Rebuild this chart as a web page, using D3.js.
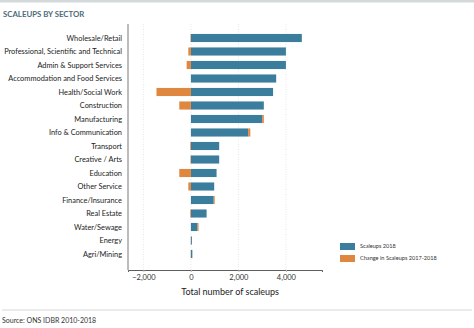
<!DOCTYPE html>
<html>
<head>
<meta charset="utf-8">
<script src="https://cdn.jsdelivr.net/npm/d3@7"></script>
<style>
  body { margin: 0; background: #fff; }
  svg { display: block; font-family: Lato, "Open Sans", sans-serif; }
</style>
</head>
<body>
<svg width="474" height="328"></svg>
<script>
var sectors = ['Wholesale/Retail', 'Professional, Scientific and Technical', 'Admin & Support Services',
  'Accommodation and Food Services', 'Health/Social Work', 'Construction', 'Manufacturing',
  'Info & Communication', 'Transport', 'Creative / Arts', 'Education', 'Other Service',
  'Finance/Insurance', 'Real Estate', 'Water/Sewage', 'Energy', 'Agri/Mining'];
var scaleups2018 = [4670, 4000, 4000, 3590, 3460, 3070, 3000, 2410, 1190, 1190, 1080, 980, 960, 660, 280, 40, 60];
var change = [-20, -110, -180, 0, -1450, -490, 70, 90, -30, -20, -490, -110, 40, -30, 40, -10, -10];
var xTicks = [-2000, 0, 2000, 4000];
var legendLabels = ['Scaleups 2018', 'Change in Scaleups 2017-2018'];

var blue = '#3b7d9c', orange = '#e0873f';
var svg = d3.select('svg');

// frame: top band, title, bottom rule, source
svg.append('rect').attr('x', 0).attr('y', 0).attr('width', 474).attr('height', 2.5).attr('fill', '#d3d9db');
svg.append('text').attr('x', 3).attr('y', 17)
   .attr('font-size', 7.8).attr('font-weight', 700).attr('fill', '#4b6b7a')
   .text('SCALEUPS BY SECTOR');
svg.append('line').attr('x1', 2).attr('x2', 472).attr('y1', 310).attr('y2', 310)
   .attr('stroke', '#d6d6d6').attr('stroke-width', 1);
svg.append('text').attr('x', 2).attr('y', 323)
   .attr('font-size', 7).attr('fill', '#333')
   .text('Source: ONS IDBR 2010-2018');

var x = d3.scaleLinear().domain([-2650, 5520]).range([128, 322]);
var y = d3.scaleBand().domain(sectors).range([31.25, 260.75]).paddingInner(0.4).paddingOuter(0.2);

// dotted gridlines
svg.append('g').selectAll('line').data(xTicks).enter().append('line')
   .attr('x1', d => x(d)).attr('x2', d => x(d))
   .attr('y1', 24).attr('y2', 270)
   .attr('stroke', '#ddd').attr('stroke-width', 0.7).attr('stroke-dasharray', '1,1.5');

var rows = sectors.map((s, i) => ({sector: s, total: scaleups2018[i], change: change[i]}));

svg.append('g').selectAll('rect').data(rows).enter().append('rect')
   .attr('x', x(0))
   .attr('y', d => y(d.sector))
   .attr('width', d => x(d.total) - x(0))
   .attr('height', y.bandwidth())
   .attr('fill', blue);

svg.append('g').selectAll('rect').data(rows.filter(d => d.change !== 0)).enter().append('rect')
   .attr('x', d => d.change < 0 ? x(d.change) : x(d.total))
   .attr('y', d => y(d.sector))
   .attr('width', d => Math.abs(x(d.change) - x(0)))
   .attr('height', y.bandwidth())
   .attr('fill', orange);

// y axis line and labels
svg.append('line').attr('x1', 128).attr('x2', 128).attr('y1', 24).attr('y2', 270)
   .attr('stroke', '#555').attr('stroke-width', 0.8);
svg.append('g').selectAll('text').data(sectors).enter().append('text')
   .attr('x', 122)
   .attr('y', d => y(d) + y.bandwidth() / 2)
   .attr('dy', '0.35em')
   .attr('text-anchor', 'end')
   .attr('font-size', 7.4).attr('fill', '#222')
   .text(d => d);

// x axis
var xAxis = svg.append('g').attr('transform', 'translate(0,270)')
   .call(d3.axisBottom(x).tickValues(xTicks).tickSize(2).tickFormat(d3.format(',')));
xAxis.select('.domain').attr('stroke', '#333').attr('stroke-width', 0.8);
xAxis.selectAll('.tick line').attr('stroke', '#bbb');
xAxis.selectAll('text').attr('font-size', 7.5).attr('fill', '#333')
   .attr('font-family', 'Lato, "Open Sans", sans-serif');

svg.append('text').attr('x', x(1650)).attr('y', 295)
   .attr('text-anchor', 'middle').attr('font-size', 9).attr('fill', '#222')
   .text('Total number of scaleups');

// legend
var legend = svg.append('g').selectAll('g').data(legendLabels).enter().append('g')
   .attr('transform', (d, i) => `translate(340,${243 + i * 12})`);
legend.append('rect').attr('width', 15).attr('height', 7)
   .attr('fill', (d, i) => i === 0 ? blue : orange);
legend.append('text').attr('x', 20).attr('y', 3.5).attr('dy', '0.35em')
   .attr('font-size', 5.6).attr('fill', '#333')
   .text(d => d);
</script>
</body>
</html>
